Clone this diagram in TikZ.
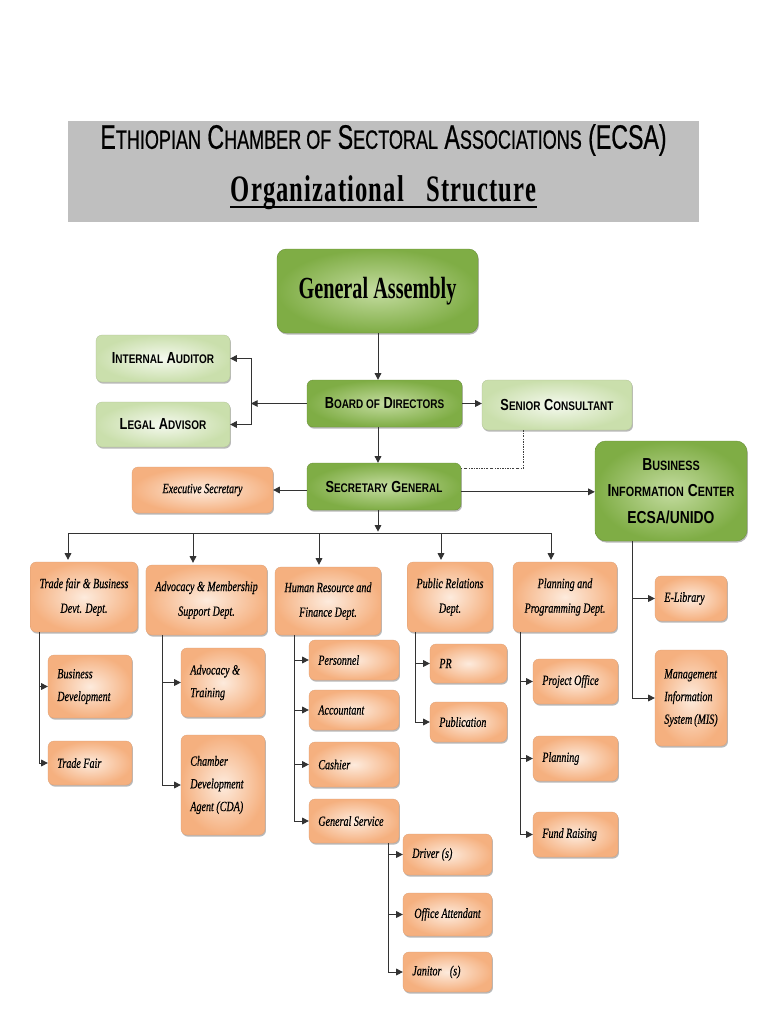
\documentclass[tikz,border=0pt]{standalone}
\usepackage{fontspec}
\usepackage{graphicx}
\setmainfont{Liberation Serif}
\newfontfamily\capsf[FakeStretch=0.68,FakeBold=0.6]{Liberation Sans}
\newfontfamily\boldsf[FakeStretch=0.8]{Liberation Sans}
\newfontfamily\condserif[FakeStretch=0.66,LetterSpace=3]{Liberation Serif}
\newfontfamily\gaserif[FakeStretch=0.66]{Liberation Serif}
\newfontfamily\itf[FakeStretch=0.72,FakeBold=0.5]{Liberation Serif}
\usetikzlibrary{shadows,arrows.meta}
\newcommand\sm[1]{\scalebox{0.78}{#1}}
\definecolor{titlegray}{HTML}{BFBFBF}
\definecolor{orD}{HTML}{F5B07F}
\definecolor{orL}{HTML}{FDEBDD}
\definecolor{grD}{HTML}{7FAD45}
\definecolor{grL}{HTML}{C4DCA0}
\definecolor{lgD}{HTML}{CADFAC}
\definecolor{lgL}{HTML}{F5F9EF}
\newcommand\bx[7]{\node[#1, minimum width={(#5-#3)*0.75pt}, minimum height={(#6-#4)*0.75pt}] (#2) at ({(#3+#5)/2},{(#4+#6)/2}) {#7};}
\newcommand\bxl[7]{\node[#1, align=left, text width={(#5-#3)*0.75pt-14pt}, minimum height={(#6-#4)*0.75pt}] (#2) at ({(#3+#5)/2},{(#4+#6)/2}) {\spaceskip=0pt\xspaceskip=0pt\relax #7};}
\tikzset{
  base/.style={rounded corners=4.5pt, inner xsep=7pt, inner ysep=2pt, align=center,
    drop shadow={shadow xshift=0.7pt, shadow yshift=-1.2pt, fill=black!50, opacity=0.55}},
  obox/.style={base, inner color=orL, outer color=orD, draw=orD!90!black, line width=0.2pt,
    font=\itf\itshape\fontsize{10.5}{17}\selectfont},
  gbox/.style={base, inner color=grL, outer color=grD, draw=grD!85!black, line width=0.3pt,
    font=\boldsf\bfseries\fontsize{12}{14}\selectfont},
  lgbox/.style={base, inner color=lgL, outer color=lgD, draw=lgD!85!black, line width=0.2pt,
    font=\boldsf\bfseries\fontsize{12}{14}\selectfont},
  wire/.style={draw=black!80, line width=0.75pt},
  conn/.style={wire, -{Triangle[length=5pt,width=5pt]}},
  dotc/.style={draw=black!75, line width=0.6pt, dash pattern=on 1.5pt off 1pt on 0.4pt off 1pt}
}
\begin{document}
\begin{tikzpicture}[x=0.75pt, y=-0.75pt]
\useasboundingbox (0,0) rectangle (768,1024);
\fill[white] (0,0) rectangle (768,1024);
% title
\fill[titlegray] (68,121) rectangle (699,222);
\node[font=\capsf\fontsize{25.5}{28}\selectfont] (t1) at (383.5,140)
  {E\sm{THIOPIAN} C\sm{HAMBER OF} S\sm{ECTORAL} A\sm{SSOCIATIONS} (ECSA)};
\node[font=\condserif\bfseries\fontsize{28}{30}\selectfont, inner sep=0pt] (t2) at (383.5,193)
  {Organizational\hspace{0.6em}Structure};
\draw[line width=1.6pt] ([yshift=-4pt]t2.base west) -- ([yshift=-4pt]t2.base east);

% top level
\bx{gbox, rounded corners=7pt, font=\gaserif\bfseries\fontsize{23}{26}\selectfont}{ga}{277}{249}{478}{333}{General Assembly}
\bx{lgbox}{ia}{96}{335}{230}{382}{I\sm{NTERNAL} A\sm{UDITOR}}
\bx{lgbox}{la}{96}{402}{230}{447}{L\sm{EGAL} A\sm{DVISOR}}
\bx{gbox}{bod}{307}{380}{462}{427}{B\sm{OARD OF} D\sm{IRECTORS}}
\bx{lgbox}{sc}{482}{380}{632}{430}{S\sm{ENIOR} C\sm{ONSULTANT}}
\bx{gbox}{sg}{307}{463}{461}{510}{S\sm{ECRETARY} G\sm{ENERAL}}
\bx{obox}{es}{132}{467}{273}{513}{Executive Secretary}
\bx{gbox, rounded corners=8pt, font=\boldsf\bfseries\fontsize{13}{20}\selectfont}{bic}{595}{441}{747}{541}{B\sm{USINESS}\\I\sm{NFORMATION} C\sm{ENTER}\\ECSA/UNIDO}

% departments
\bx{obox, font=\itf\itshape\fontsize{10.5}{18.5}\selectfont}{tfd}{31}{562}{137}{632}{Trade fair \& Business\\Devt. Dept.}
\bx{obox, font=\itf\itshape\fontsize{10.5}{18.5}\selectfont}{adv}{148}{565}{265}{635}{Advocacy \& Membership\\Support Dept.}
\bx{obox, font=\itf\itshape\fontsize{10.5}{18.5}\selectfont}{hr}{275}{567}{381}{635}{Human Resource and\\Finance Dept.}
\bx{obox, font=\itf\itshape\fontsize{10.5}{18.5}\selectfont}{pr}{408}{562}{492}{632}{Public Relations\\Dept.}
\bx{obox, font=\itf\itshape\fontsize{10.5}{18.5}\selectfont}{pp}{513}{562}{617}{632}{Planning and\\Programming Dept.}

% sub units
\bxl{obox}{bd}{48}{655}{132}{718}{Business\\Development}
\bxl{obox}{tfr}{48}{741}{132}{785}{Trade Fair}
\bxl{obox}{at}{181}{648}{265}{717}{Advocacy \&\\Training}
\bxl{obox}{cda}{181}{735}{265}{835}{Chamber\\Development\\Agent (CDA)}
\bxl{obox}{pers}{309}{640}{399}{680}{Personnel}
\bxl{obox}{acc}{309}{690}{399}{730}{Accountant}
\bxl{obox}{cash}{309}{742}{399}{787}{Cashier}
\bxl{obox}{gs}{309}{799}{399}{843}{General Service}
\bxl{obox}{drv}{403}{834}{492}{875}{Driver (s)}
\bx{obox}{oa}{403}{893}{492}{936}{Office Attendant}
\bxl{obox}{jan}{403}{952}{492}{992}{Janitor\hspace{0.6em}(s)}
\bxl{obox}{prr}{430}{644}{507}{683}{PR}
\bxl{obox}{pub}{430}{702}{507}{742}{Publication}
\bxl{obox}{po}{533}{659}{618}{704}{Project Office}
\bxl{obox}{pl}{533}{736}{618}{781}{Planning}
\bxl{obox}{fr}{533}{812}{618}{857}{Fund Raising}
\bxl{obox}{el}{655}{576}{727}{621}{E-Library}
\bxl{obox}{mis}{655}{650}{727}{746}{Management\\Information\\System (MIS)}

% connectors top
\coordinate (vx) at (378,0);
\draw[conn] (ga.south -| vx) -- (bod.north -| vx);
\coordinate (bj) at (251,403.5);
\draw[conn] (bod.west) -- (bj);
\draw[conn] (bj) |- (ia.east);
\draw[conn] (bj) |- (la.east);
\draw[conn] (bod.east) -- (bod.east -| sc.west);
\draw[conn] (bod.south -| vx) -- (sg.north -| vx);
\draw[dotc] ([xshift=-25.5pt]sc.south) |- ([yshift=-4pt]sg.north east);
\draw[conn] (es.east -| sg.west) -- (es.east);
\draw[conn] ([yshift=-4pt]sg.east) -- ([yshift=-4pt]sg.east -| bic.west);

% bus
\coordinate (bus) at (378,533);
\coordinate (b1) at (68,533);
\coordinate (b2) at (193,533);
\coordinate (b3) at (319,533);
\coordinate (b4) at (441,533);
\coordinate (b5) at (551,533);
\draw[conn, shorten >=1pt] (sg.south -| vx) -- (bus);
\draw[wire] (b1) -- (b5);
\draw[conn] (b1) -- ([yshift=1.5pt]b1 |- tfd.north);
\draw[conn] (b2) -- ([yshift=1.5pt]b2 |- adv.north);
\draw[conn] (b3) -- ([yshift=1.5pt]b3 |- hr.north);
\draw[conn] (b4) -- ([yshift=1.5pt]b4 |- pr.north);
\draw[conn] (b5) -- ([yshift=1.5pt]b5 |- pp.north);

% department branches
\draw[conn] ([xshift=6.75pt]tfd.south west) |- (bd.west);
\draw[conn] ([xshift=6.75pt]tfd.south west) |- (tfr.west);
\draw[conn] ([xshift=12.75pt]adv.south west) |- (at.west);
\draw[conn] ([xshift=12.75pt]adv.south west) |- (cda.west);
\draw[conn] ([xshift=15pt]hr.south west) |- (pers.west);
\draw[conn] ([xshift=15pt]hr.south west) |- (acc.west);
\draw[conn] ([xshift=15pt]hr.south west) |- (cash.west);
\draw[conn] ([xshift=15pt]hr.south west) |- (gs.west);
\draw[conn] ([xshift=60pt]gs.south west) |- (drv.west);
\draw[conn] ([xshift=60pt]gs.south west) |- (oa.west);
\draw[conn] ([xshift=60pt]gs.south west) |- (jan.west);
\draw[conn] ([xshift=6pt]pr.south west) |- (prr.west);
\draw[conn] ([xshift=6pt]pr.south west) |- (pub.west);
\draw[conn] ([xshift=6pt]pp.south west) |- (po.west);
\draw[conn] ([xshift=6pt]pp.south west) |- (pl.west);
\draw[conn] ([xshift=6pt]pp.south west) |- (fr.west);
\draw[conn] ([xshift=28.5pt]bic.south west) |- (el.west);
\draw[conn] ([xshift=28.5pt]bic.south west) |- (mis.west);
\end{tikzpicture}
\end{document}
